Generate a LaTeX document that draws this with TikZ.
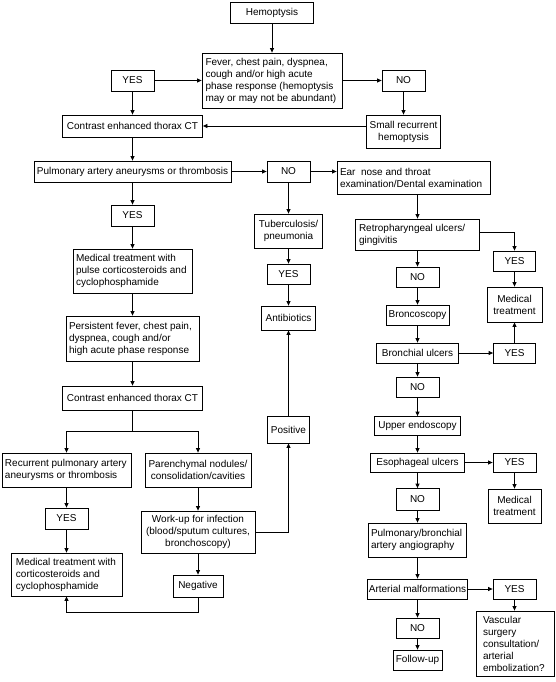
\documentclass[tikz,border=0pt]{standalone}
\usepackage{fontspec}
\setmainfont{Liberation Sans}
\usetikzlibrary{arrows.meta}
\tikzset{
 bx/.style={draw, line width=0.8pt, inner sep=0pt, font=\fontsize{10}{12}\selectfont, align=center},
 bl/.style={bx, align=flush left},
 bc/.style={bx, align=flush center},
 arr/.style={line width=0.8pt, -{Triangle[length=4.5pt,width=4pt]}},
 ln/.style={line width=0.8pt},
}
\begin{document}
\begin{tikzpicture}[x=1pt,y=1pt]
\useasboundingbox (0,0) rectangle (555,-682);
\node[bx,minimum width=83pt,minimum height=21pt] (hem) at (272,-12.5) {Hemoptysis};
\node[bl,text width=133pt,inner xsep=3.5pt,minimum height=55pt] (fev) at (272,-80.5) {Fever, chest pain, dyspnea,\\cough and/or high acute\\phase response (hemoptysis\\may or may not be abundant)};
\node[bx,minimum width=43pt,minimum height=21pt] (yes1) at (132.5,-80.5) {YES};
\node[bx,minimum width=43pt,minimum height=21pt] (no1) at (403.5,-80.5) {NO};
\node[bx,minimum width=140pt,minimum height=22pt] (ct1) at (132.5,-126) {Contrast enhanced thorax CT};
\node[bc,text width=72pt,inner xsep=1pt,minimum height=33pt] (small) at (403.5,-131.5) {Small recurrent\\hemoptysis};
\node[bx,minimum width=197pt,minimum height=21pt] (pul) at (132.5,-171.5) {Pulmonary artery aneurysms or thrombosis};
\node[bx,minimum width=43pt,minimum height=21pt] (no2) at (288.5,-171.5) {NO};
\node[bl,text width=147pt,inner xsep=3pt,minimum height=33pt] (ear) at (413.5,-177.5) {Ear\ \ nose and throat\\examination/Dental examination};
\node[bx,minimum width=43pt,minimum height=21pt] (yes2) at (132.5,-215.5) {YES};
\node[bc,text width=64pt,inner xsep=2pt,minimum height=34pt] (tub) at (288.5,-231) {Tuberculosis/\\pneumonia};
\node[bl,text width=117pt,inner xsep=3.5pt,minimum height=31pt] (retro) at (417.5,-234.5) {Retropharyngeal ulcers/\\gingivitis};
\node[bx,minimum width=42pt,minimum height=20pt] (yes3) at (514.5,-261) {YES};
\node[bl,text width=113pt,inner xsep=3pt,minimum height=44pt] (med1) at (132.5,-271) {Medical treatment with\\pulse corticosteroids and\\cyclophosphamide};
\node[bx,minimum width=43pt,minimum height=20pt] (yes4) at (288.5,-274) {YES};
\node[bx,minimum width=43pt,minimum height=20pt] (no3) at (417.5,-277) {NO};
\node[bc,text width=51pt,inner xsep=2pt,minimum height=35pt] (medr1) at (514.5,-304.5) {Medical\\treatment};
\node[bx,minimum width=54pt,minimum height=24pt] (anti) at (288.5,-318) {Antibiotics};
\node[bx,minimum width=63pt,minimum height=20pt] (bronco) at (417.5,-315) {Broncoscopy};
\node[bl,text width=127pt,inner xsep=3pt,minimum height=45pt] (pers) at (132.5,-338.5) {Persistent fever, chest pain,\\dyspnea, cough and/or\\high acute phase response};
\node[bx,minimum width=82pt,minimum height=20pt] (bul) at (417.5,-353) {Bronchial ulcers};
\node[bx,minimum width=42pt,minimum height=20pt] (yes5) at (514.5,-353) {YES};
\node[bx,minimum width=43pt,minimum height=20pt] (no4) at (417.5,-387) {NO};
\node[bx,minimum width=140pt,minimum height=24pt] (ct2) at (132.5,-398) {Contrast enhanced thorax CT};
\node[bx,minimum width=42pt,minimum height=27pt] (pos) at (288.5,-429.5) {Positive};
\node[bx,minimum width=86pt,minimum height=19pt] (upper) at (417.5,-426) {Upper endoscopy};
\node[bl,text width=123pt,inner xsep=3pt,minimum height=34pt] (rec) at (66.5,-470) {Recurrent pulmonary artery\\aneurysms or thrombosis};
\node[bc,text width=103pt,inner xsep=1.5pt,minimum height=34pt] (par) at (198,-470) {Parenchymal nodules/\\consolidation/cavities};
\node[bx,minimum width=94pt,minimum height=19pt] (eso) at (417.5,-462.5) {Esophageal ulcers};
\node[bx,minimum width=43pt,minimum height=19pt] (yes6) at (514.5,-462.5) {YES};
\node[bx,minimum width=43pt,minimum height=22pt] (no5) at (417.5,-499.5) {NO};
\node[bc,text width=49pt,inner xsep=2pt,minimum height=34pt] (medr2) at (514.5,-506) {Medical\\treatment};
\node[bx,minimum width=43pt,minimum height=21pt] (yes7) at (66.5,-518.5) {YES};
\node[bc,text width=110pt,inner xsep=2pt,minimum height=42pt] (work) at (198,-532) {Work-up for infection\\(blood/sputum cultures,\\bronchoscopy)};
\node[bl,text width=93pt,inner xsep=2.5pt,minimum height=34pt] (angio) at (417.5,-540) {Pulmonary/bronchial\\artery angiography};
\node[bl,text width=101pt,inner xsep=5pt,minimum height=43pt] (medc) at (66.5,-574.5) {Medical treatment with\\corticosteroids and\\cyclophosphamide};
\node[bx,minimum width=50pt,minimum height=22pt] (neg) at (198,-586) {Negative};
\node[bx,minimum width=100pt,minimum height=20pt] (art) at (417.5,-589) {Arterial malformations};
\node[bx,minimum width=43pt,minimum height=20pt] (yes8) at (514.5,-589) {YES};
\node[bx,minimum width=43pt,minimum height=20pt] (no6) at (417.5,-628) {NO};
\node[bx,minimum width=49pt,minimum height=20pt] (fol) at (417.5,-660) {Follow-up};
\node[bl,text width=64pt,inner xsep=7pt,minimum height=65pt] (vas) at (515,-643.5) {Vascular\\surgery\\consultation/\\arterial\\embolization?};
% connectors
\draw[arr] (hem) -- (fev);
\draw[arr] (yes1) -- (fev);
\draw[arr] (fev) -- (no1);
\draw[arr] (yes1) -- (ct1);
\draw[arr] (no1) -- (small);
\draw[arr] (small.west |- ct1.east) -- (ct1.east);
\draw[arr] (ct1) -- (pul);
\draw[arr] (pul) -- (no2);
\draw[arr] (no2.east) -- (no2.east -| ear.west);
\draw[arr] (no2) -- (tub);
\draw[arr] (tub) -- (yes4);
\draw[arr] (yes4) -- (anti);
\draw[arr] (pul) -- (yes2);
\draw[arr] (yes2) -- (med1);
\draw[arr] (med1) -- (pers);
\draw[arr] (pers) -- (ct2);
\coordinate (sp) at (132.5,-431);
\draw[ln] (ct2.south) -- (sp);
\draw[arr] (sp) -| (rec.north);
\draw[arr] (sp) -| (par.north);
\draw[arr] (rec) -- (yes7);
\draw[arr] (yes7) -- (medc);
\draw[arr] (par) -- (work);
\draw[arr] (work) -- (neg);
\draw[arr] (neg.south) -- ++(0,-15) -| (medc.south);
\draw[arr] (work.east) -| (pos.south);
\draw[arr] (pos) -- (anti);
\draw[arr] (retro.north |- ear.south) -- (retro.north);
\draw[arr] ([yshift=2pt]retro.east) -| (yes3.north);
\draw[arr] (yes3) -- (medr1);
\draw[arr] (retro) -- (no3);
\draw[arr] (no3) -- (bronco);
\draw[arr] (bronco) -- (bul);
\draw[arr] (bul) -- (yes5);
\draw[arr] (yes5) -- (medr1);
\draw[arr] (bul) -- (no4);
\draw[arr] (no4) -- (upper);
\draw[arr] (upper) -- (eso);
\draw[arr] (eso) -- (yes6);
\draw[arr] (yes6) -- (medr2);
\draw[arr] (eso) -- (no5);
\draw[arr] (no5) -- (angio);
\draw[arr] (angio) -- (art);
\draw[arr] (art) -- (yes8);
\draw[arr] (yes8.south) -- (yes8.south |- vas.north);
\draw[arr] (art) -- (no6);
\draw[arr] (no6) -- (fol);
\end{tikzpicture}
\end{document}
